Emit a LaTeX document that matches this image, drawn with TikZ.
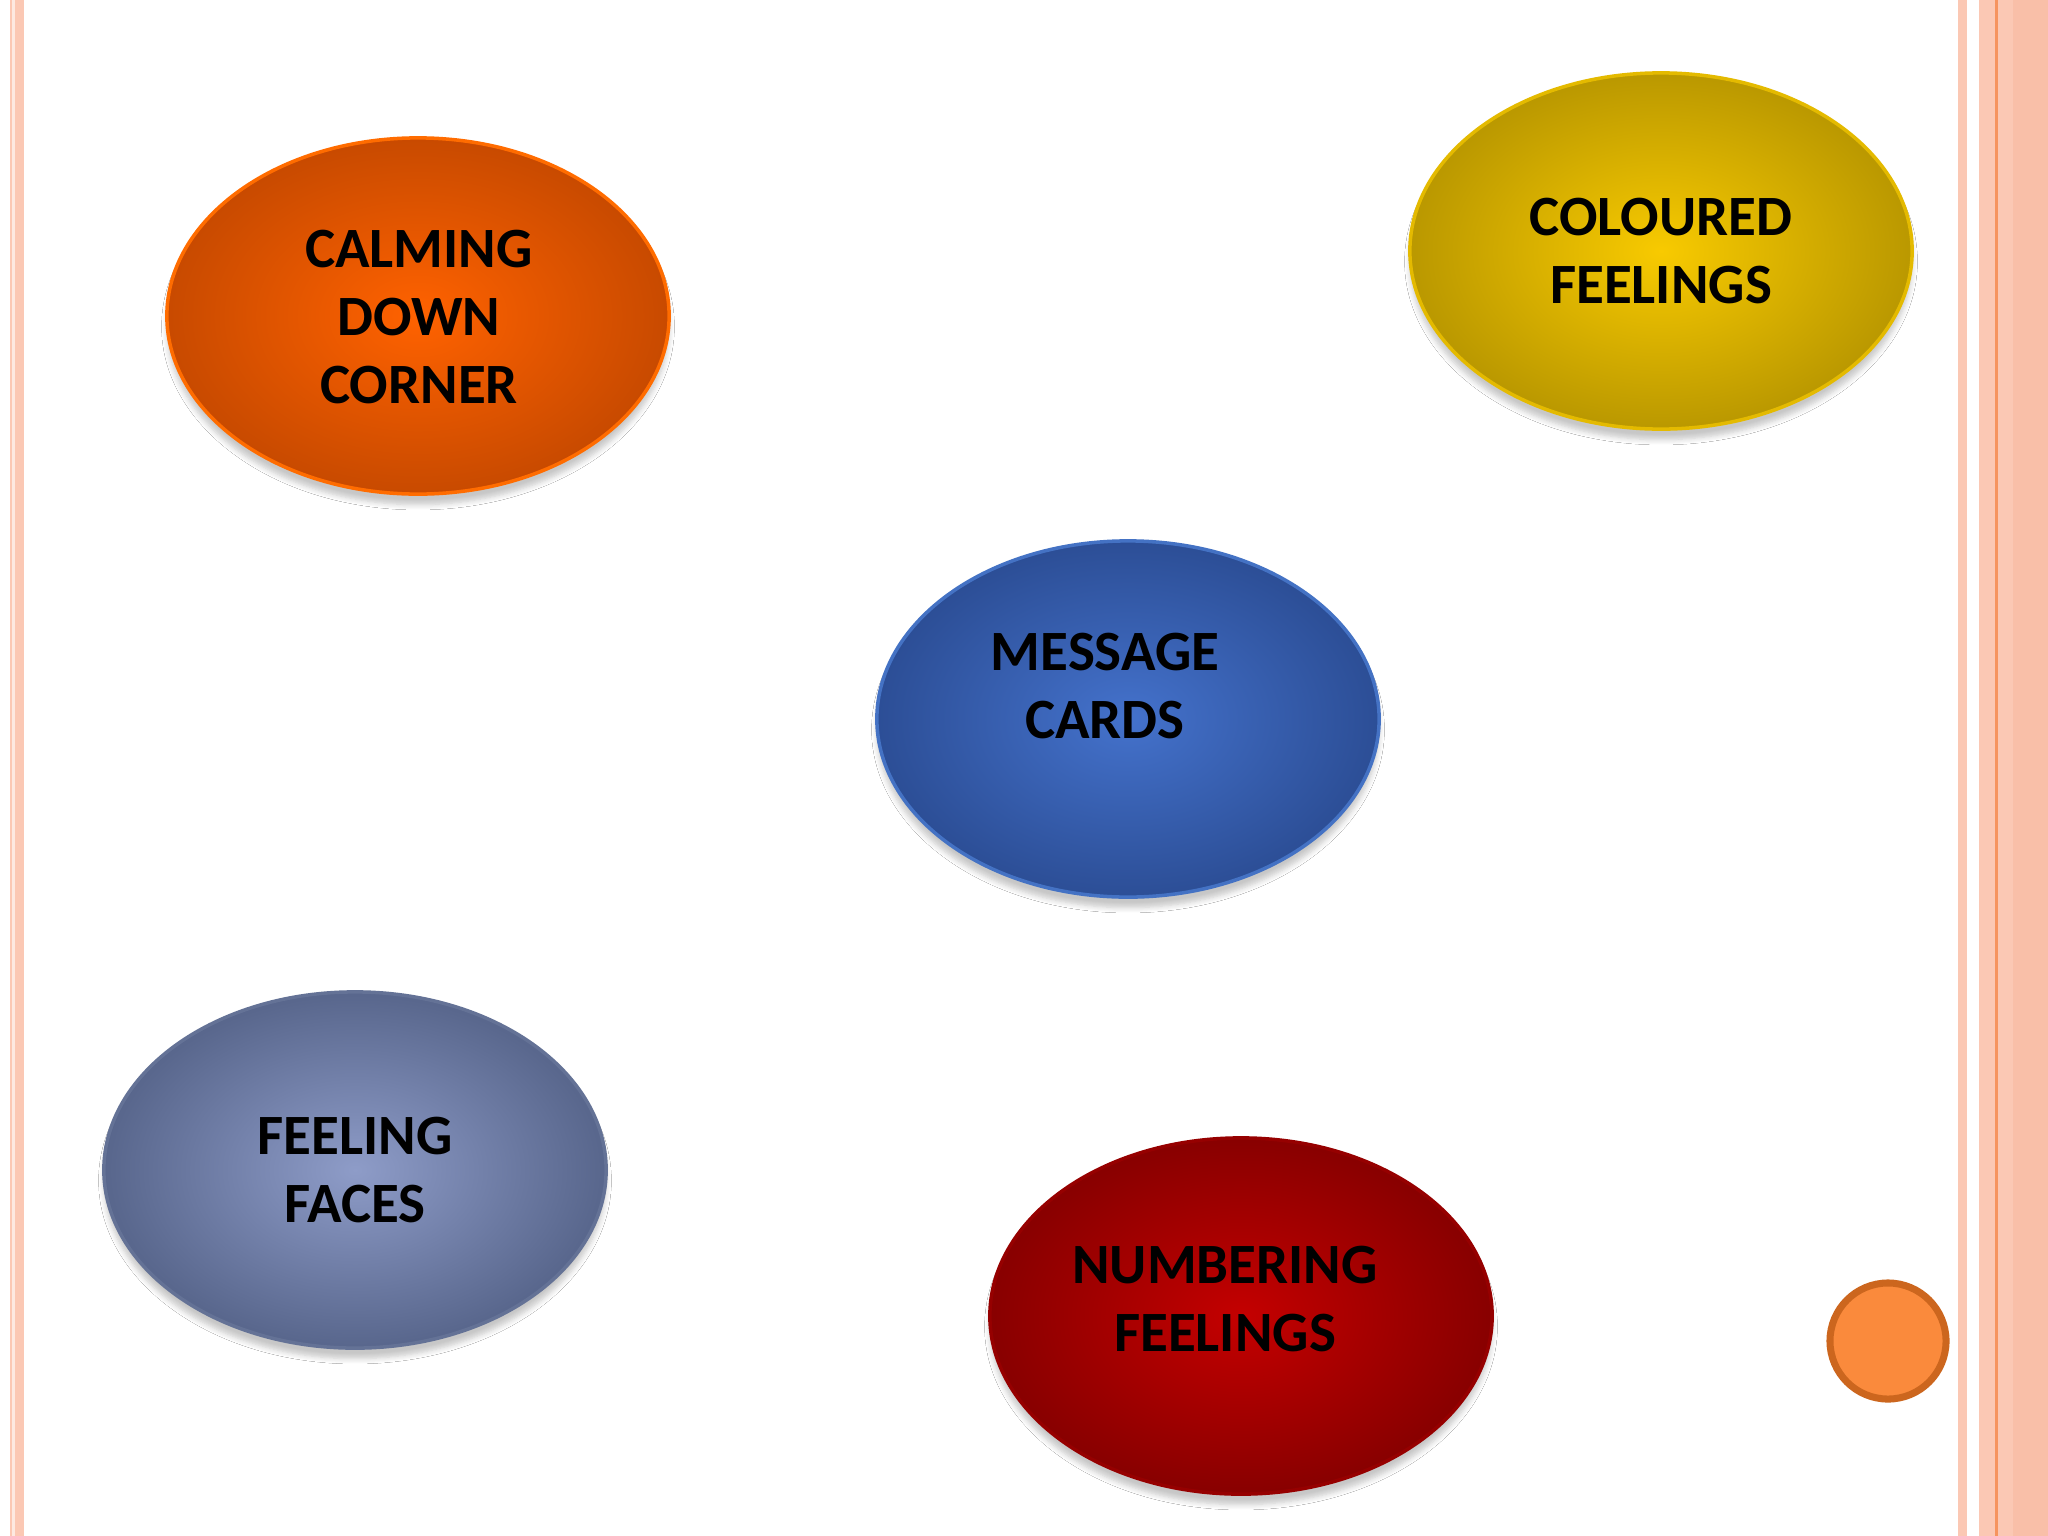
\documentclass[tikz,border=0pt]{standalone}
\usepackage{fontspec}
\setmainfont{Carlito}
\usetikzlibrary{shapes.geometric,shadows.blur}
\definecolor{stripe}{HTML}{FBC8B4}
\definecolor{stripeb}{HTML}{F9BFA8}
\definecolor{stripeline}{HTML}{F6945F}
\tikzset{
  bubble/.style={ellipse, minimum width=5.02cm, minimum height=3.56cm, inner sep=0pt,
    blur shadow={shadow xshift=0pt, shadow yshift=-3pt, shadow blur radius=1.5pt, shadow opacity=22, shadow blur steps=6}},
  txt/.style={align=center, font=\bfseries\fontsize{16.2}{19.4}\selectfont, text=black},
}
\begin{document}
\begin{tikzpicture}[x=0.01cm,y=-0.01cm]
\useasboundingbox (0,0) rectangle (2048,1536);
\fill[white] (0,0) rectangle (2048,1536);
% left border
\fill[stripe] (10,0) rectangle (24,1536);
\fill[white!60!stripe] (12,0) rectangle (15,1536);
% right border
\fill[stripe] (1958,0) rectangle (1967,1536);
\fill[stripe] (1979,0) rectangle (1995,1536);
\fill[stripeline] (1995,0) rectangle (1998,1536);
\fill[stripe] (1998,0) rectangle (2013,1536);
\fill[stripeb] (2013,0) rectangle (2048,1536);
% ellipses
\node[bubble, draw=orange!85!red, line width=1pt, inner color={rgb,255:red,255;green,98;blue,0}, outer color={rgb,255:red,200;green,74;blue,0}] (calm) at (418,316) {};
\node[txt] (calmt) at (419,317) {CALMING\\DOWN\\CORNER};
\node[bubble, draw={rgb,255:red,228;green,186;blue,0}, line width=1pt, inner color={rgb,255:red,248;green,202;blue,0}, outer color={rgb,255:red,186;green,152;blue,0}] (col) at (1661,251) {};
\node[txt] (colt) at (1661,251) {COLOURED\\FEELINGS};
\node[bubble, draw={rgb,255:red,68;green,114;blue,196}, line width=1pt, inner color={rgb,255:red,68;green,114;blue,204}, outer color={rgb,255:red,44;green,78;blue,150}] (msg) at (1128,719) {};
\node[txt] (msgt) at (1105,686) {MESSAGE\\CARDS};
\node[bubble, draw={rgb,255:red,100;green,114;blue,150}, line width=1pt, inner color={rgb,255:red,142;green,156;blue,200}, outer color={rgb,255:red,88;green,102;blue,140}] (face) at (355,1170) {};
\node[txt] (facet) at (355,1170) {FEELING\\FACES};
\node[bubble, draw={rgb,255:red,150;green,0;blue,0}, line width=1pt, inner color={rgb,255:red,196;green,0;blue,0}, outer color={rgb,255:red,136;green,0;blue,0}] (num) at (1241,1316) {};
\node[txt] (numt) at (1225,1299) {NUMBERING\\FEELINGS};
% orange dot
\node[circle, minimum size=1.16cm, inner sep=0pt, fill={rgb,255:red,250;green,138;blue,60}, draw={rgb,255:red,204;green,102;blue,30}, line width=2pt] (dot) at (1888,1341) {};
\end{tikzpicture}
\end{document}
